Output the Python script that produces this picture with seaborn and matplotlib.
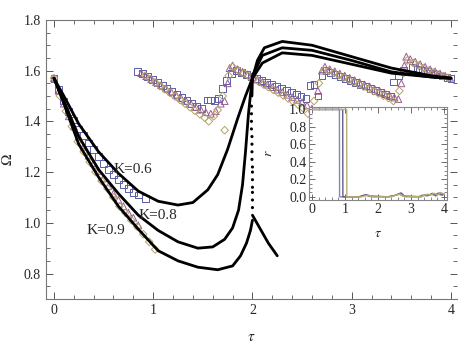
import numpy as np
import pandas as pd
import matplotlib
matplotlib.use("Agg")
import matplotlib.pyplot as plt
from matplotlib.ticker import MultipleLocator
import seaborn as sns

sns.set_style("ticks")
plt.rcParams['font.family'] = ['Liberation Serif', 'DejaVu Serif']
plt.rcParams['mathtext.fontset'] = 'stix'

# ---- black curves (theory) ----
k06_tau = [0, 0.1, 0.25, 0.45, 0.65, 0.85, 1.05, 1.25, 1.4, 1.55, 1.65, 1.75, 1.85, 1.93, 2.0,
           2.1, 2.3, 2.6, 3.0, 3.4, 3.8, 4.0]
k06_om = [1.57, 1.50, 1.39, 1.28, 1.195, 1.125, 1.085, 1.07, 1.08, 1.13, 1.19, 1.29, 1.41, 1.50, 1.57,
          1.63, 1.67, 1.66, 1.625, 1.59, 1.575, 1.57]

k08_tau = [0, 0.1, 0.25, 0.45, 0.65, 0.85, 1.05, 1.25, 1.45, 1.6, 1.72, 1.8, 1.86, 1.9, 1.93, 1.96,
           2.0, 2.1, 2.3, 2.6, 3.0, 3.4, 3.8, 4.0]
k08_om = [1.57, 1.48, 1.34, 1.21, 1.115, 1.03, 0.97, 0.925, 0.90, 0.905, 0.935, 0.98, 1.05, 1.15, 1.28, 1.43,
          1.58, 1.66, 1.69, 1.68, 1.64, 1.595, 1.575, 1.57]

k09_tau = [0, 0.1, 0.25, 0.45, 0.65, 0.85, 1.05, 1.25, 1.45, 1.65, 1.8, 1.88, 1.94, 1.98, 2.0]
k09_om = [1.57, 1.47, 1.31, 1.18, 1.065, 0.975, 0.89, 0.85, 0.825, 0.815, 0.83, 0.87, 0.92, 0.97, 1.01]

k09_up_tau = [1.995, 2.0, 2.05, 2.12, 2.3, 2.6, 3.0, 3.4, 3.8, 4.0]
k09_up_om = [1.50, 1.57, 1.64, 1.69, 1.715, 1.70, 1.655, 1.61, 1.58, 1.57]

k09_br_tau = [2.0, 2.08, 2.16, 2.25]
k09_br_om = [1.03, 0.975, 0.92, 0.87]

dots_tau = [2.0, 2.0, 2.0, 2.0, 2.0, 2.0, 2.0, 1.995, 1.995, 1.995, 1.995, 1.99, 1.99, 1.99, 1.99]
dots_om = [1.06, 1.09, 1.12, 1.14, 1.17, 1.20, 1.22, 1.25, 1.28, 1.31, 1.34, 1.37, 1.40, 1.43, 1.46]

# ---- simulation markers ----
sq_tau = [0, 0.05, 0.1, 0.15, 0.2, 0.25, 0.3, 0.35, 0.4, 0.45, 0.5, 0.55, 0.6, 0.65, 0.7, 0.75, 0.8, 0.85, 0.92,
          0.84, 0.89, 0.94, 0.99, 1.04, 1.09, 1.14, 1.19, 1.24, 1.29, 1.34, 1.39, 1.44, 1.49,
          1.55, 1.58, 1.62, 1.66, 1.70, 1.74, 1.79,
          1.84, 1.89, 1.94, 1.99, 2.04, 2.09, 2.14, 2.19, 2.24, 2.29, 2.34, 2.39, 2.44, 2.49, 2.54,
          2.58, 2.62, 2.66, 2.70,
          2.74, 2.79, 2.84, 2.89, 2.94, 2.99, 3.04, 3.09, 3.14, 3.19, 3.24, 3.29, 3.34, 3.39,
          3.42, 3.47, 3.52,
          3.61, 3.66, 3.71, 3.76, 3.81, 3.86, 3.91, 3.96, 4.0]
sq_om = [1.57, 1.525, 1.48, 1.44, 1.405, 1.37, 1.345, 1.315, 1.29, 1.26, 1.235, 1.21, 1.19, 1.17, 1.15, 1.135, 1.12, 1.11, 1.097,
         1.598, 1.588, 1.577, 1.565, 1.553, 1.541, 1.530, 1.518, 1.505, 1.494, 1.483, 1.471, 1.459, 1.452,
         1.484, 1.484, 1.482, 1.49, 1.53, 1.56, 1.59,
         1.600, 1.592, 1.584, 1.576, 1.568, 1.560, 1.552, 1.545, 1.537, 1.529, 1.521, 1.514, 1.506, 1.498, 1.49,
         1.54, 1.545, 1.50, 1.58,
         1.600, 1.592, 1.585, 1.577, 1.569, 1.562, 1.554, 1.546, 1.539, 1.531, 1.523, 1.516, 1.508, 1.50,
         1.555, 1.58, 1.60,
         1.612, 1.606, 1.600, 1.595, 1.590, 1.584, 1.579, 1.573, 1.57]

tri_tau = [0, 0.05, 0.1, 0.15, 0.2, 0.25, 0.3, 0.35, 0.4, 0.45, 0.5, 0.55, 0.6, 0.65, 0.7, 0.75, 0.8, 0.85,
           0.88, 0.93, 0.98, 1.03, 1.08, 1.13, 1.18, 1.23, 1.28, 1.33, 1.38, 1.43, 1.48, 1.53, 1.58,
           1.63, 1.68, 1.72, 1.75, 1.77, 1.80,
           1.85, 1.90, 1.95, 2.00, 2.05, 2.10, 2.15, 2.20, 2.25, 2.30, 2.35, 2.40, 2.45, 2.50, 2.55,
           2.60, 2.66, 2.70, 2.73,
           2.78, 2.83, 2.88, 2.93, 2.98, 3.03, 3.08, 3.13, 3.18, 3.23, 3.28, 3.33, 3.38, 3.43, 3.47,
           3.50, 3.53, 3.55, 3.59,
           3.64, 3.69, 3.74, 3.79, 3.84, 3.89, 3.94, 3.99]
tri_om = [1.57, 1.52, 1.47, 1.42, 1.38, 1.34, 1.30, 1.265, 1.235, 1.205, 1.175, 1.145, 1.115, 1.09, 1.065, 1.04, 1.02, 0.99,
          1.590, 1.578, 1.566, 1.554, 1.542, 1.530, 1.518, 1.505, 1.493, 1.481, 1.469, 1.457, 1.446, 1.436, 1.43,
          1.44, 1.47, 1.48, 1.55, 1.61, 1.62,
          1.605, 1.595, 1.585, 1.575, 1.565, 1.555, 1.545, 1.535, 1.525, 1.515, 1.505, 1.495, 1.485, 1.475, 1.463,
          1.45, 1.52, 1.60, 1.615,
          1.605, 1.597, 1.588, 1.580, 1.571, 1.562, 1.554, 1.545, 1.537, 1.528, 1.520, 1.511, 1.503, 1.494, 1.488,
          1.55, 1.62, 1.655, 1.645,
          1.635, 1.625, 1.615, 1.605, 1.597, 1.588, 1.58, 1.572]

dia_tau = [0, 0.06, 0.12, 0.18, 0.24, 0.3, 0.36, 0.42, 0.48, 0.54, 0.6, 0.66, 0.72, 0.78, 0.84, 0.9, 0.96, 1.02,
           0.92, 0.97, 1.02, 1.07, 1.12, 1.17, 1.22, 1.27, 1.32, 1.37, 1.42, 1.47, 1.52, 1.56,
           1.61, 1.65, 1.72, 1.70, 1.76, 1.80,
           1.86, 1.91, 1.96, 2.01, 2.06, 2.11, 2.16, 2.21, 2.26, 2.31, 2.36, 2.41, 2.46, 2.51, 2.56,
           2.62, 2.67, 2.72,
           2.77, 2.82, 2.87, 2.92, 2.97, 3.02, 3.07, 3.12, 3.17, 3.22, 3.27, 3.32, 3.37, 3.42,
           3.48, 3.52, 3.56,
           3.62, 3.67, 3.72, 3.77, 3.82, 3.87, 3.92, 3.97]
dia_om = [1.57, 1.50, 1.44, 1.38, 1.32, 1.28, 1.24, 1.20, 1.165, 1.135, 1.10, 1.065, 1.04, 1.01, 0.985, 0.955, 0.925, 0.895,
          1.580, 1.567, 1.553, 1.540, 1.526, 1.512, 1.498, 1.484, 1.470, 1.456, 1.442, 1.428, 1.414, 1.40,
          1.42, 1.445, 1.365, 1.50, 1.58, 1.615,
          1.600, 1.590, 1.579, 1.568, 1.557, 1.546, 1.535, 1.524, 1.513, 1.502, 1.490, 1.478, 1.466, 1.452, 1.43,
          1.48, 1.55, 1.60,
          1.600, 1.591, 1.582, 1.573, 1.564, 1.555, 1.546, 1.537, 1.528, 1.519, 1.510, 1.501, 1.492, 1.48,
          1.52, 1.59, 1.64,
          1.63, 1.62, 1.61, 1.60, 1.593, 1.585, 1.578, 1.572]

# ---- inset: order parameter r ----
r1_tau = [0, 0.83, 0.835, 1.0, 1.4, 1.5, 1.6, 1.7, 1.8, 2.3, 2.45, 2.55, 2.65, 2.75, 2.85, 3.2, 3.35, 3.5, 3.6, 3.7, 3.8, 3.9, 4.0]
r1 = [1, 1, 0, 0, 0, 0.01, 0.02, 0.01, 0, 0, 0.01, 0.02, 0.03, 0.01, 0, 0, 0.02, 0.01, 0.03, 0.02, 0.04, 0.02, 0.03]
r2_tau = [0, 0.93, 0.935, 1.1, 1.45, 1.55, 1.65, 1.75, 2.3, 2.5, 2.6, 2.7, 2.8, 3.3, 3.45, 3.55, 3.65, 3.75, 3.85, 3.95, 4.0]
r2 = [1, 1, 0, 0, 0, 0.015, 0.025, 0.01, 0, 0.015, 0.03, 0.045, 0.01, 0, 0.025, 0.02, 0.04, 0.01, 0.045, 0.02, 0.03]
r3_tau = [0, 1.05, 1.055, 1.2, 1.5, 1.6, 1.7, 1.8, 2.4, 2.55, 2.65, 2.75, 3.3, 3.4, 3.5, 3.6, 3.7, 3.8, 3.9, 4.0]
r3 = [1, 1, 0, 0, 0, 0.01, 0.02, 0.0, 0, 0.02, 0.03, 0.01, 0, 0.02, 0.03, 0.02, 0.04, 0.02, 0.05, 0.03]

c_sq = '#5a5fa8'
c_tri = '#9a5c94'
c_dia = '#b3a366'

fig = plt.figure(figsize=(4.74, 3.55), dpi=100)
ax = fig.add_axes([0.097, 0.158, 0.867, 0.786])

# markers
sns.scatterplot(x=sq_tau, y=sq_om, marker='s', s=24, facecolor='none', edgecolor=c_sq, linewidth=0.7, ax=ax, zorder=2)
sns.scatterplot(x=tri_tau, y=tri_om, marker='^', s=24, facecolor='none', edgecolor=c_tri, linewidth=0.7, ax=ax, zorder=2)
sns.scatterplot(x=dia_tau, y=dia_om, marker='D', s=15, facecolor='none', edgecolor=c_dia, linewidth=0.7, ax=ax, zorder=2)

# curves
for tt, oo in [(k06_tau, k06_om), (k08_tau, k08_om), (k09_tau, k09_om),
               (k09_up_tau, k09_up_om), (k09_br_tau, k09_br_om)]:
    sns.lineplot(x=tt, y=oo, sort=False, estimator=None, color='black', linewidth=2.0, ax=ax, zorder=3)
sns.scatterplot(x=dots_tau, y=dots_om, s=5, color='black', edgecolor='none', ax=ax, zorder=3)

ax.text(0.6, 1.211, 'K=0.6', fontsize=11, va='center', ha='left')
ax.text(0.85, 1.029, 'K=0.8', fontsize=11, va='center', ha='left')
ax.text(0.33, 0.97, 'K=0.9', fontsize=11, va='center', ha='left')

ax.set_xlim(-0.08, 4.06)
ax.set_ylim(0.70, 1.80)
ax.xaxis.set_major_locator(MultipleLocator(1))
ax.xaxis.set_minor_locator(MultipleLocator(0.2))
ax.yaxis.set_major_locator(MultipleLocator(0.2))
ax.yaxis.set_minor_locator(MultipleLocator(0.05))
ax.set_xticks([0, 1, 2, 3, 4])
ax.set_xticklabels(['0', '1', '2', '3', '4'])
ax.set_yticks([0.8, 1.0, 1.2, 1.4, 1.6, 1.8])
ax.set_yticklabels(['0.8', '1.0', '1.2', '1.4', '1.6', '1.8'])
ax.tick_params(which='both', direction='in', top=True, right=True, labelsize=10, color='#555555')
ax.tick_params(which='major', length=5, width=0.7)
ax.tick_params(which='minor', length=3, width=0.6)
for side in ['left', 'bottom', 'top']:
    ax.spines[side].set_color('#777777')
    ax.spines[side].set_linewidth(0.8)
ax.spines['right'].set_visible(False)
ax.set_xlabel(r'$\tau$', fontsize=11, labelpad=10)
ax.set_ylabel(r'$\Omega$', fontsize=11, labelpad=6)

# inset
ax2 = fig.add_axes([0.652, 0.437, 0.291, 0.262])
ax2.set_facecolor('white')
sns.lineplot(x=r1_tau, y=r1, sort=False, estimator=None, color='#8088b8', linewidth=1.0, ax=ax2)
sns.lineplot(x=r2_tau, y=r2, sort=False, estimator=None, color='#6a5a8c', linewidth=1.0, ax=ax2)
sns.lineplot(x=r3_tau, y=r3, sort=False, estimator=None, color='#b8b070', linewidth=1.0, ax=ax2)
ax2.set_xlim(-0.09, 4.09)
ax2.set_ylim(-0.035, 1.03)
ax2.set_xticks([0, 1, 2, 3, 4])
ax2.set_xticklabels(['0', '1', '2', '3', '4'])
ax2.set_yticks([0.0, 0.2, 0.4, 0.6, 0.8, 1.0])
ax2.set_yticklabels(['0.0', '0.2', '0.4', '0.6', '0.8', '1.0'])
ax2.xaxis.set_minor_locator(MultipleLocator(0.2))
ax2.yaxis.set_minor_locator(MultipleLocator(0.05))
ax2.tick_params(which='both', direction='in', top=True, right=True, labelsize=10, pad=2, color='#555555')
ax2.tick_params(which='major', length=4, width=0.6)
ax2.tick_params(which='minor', length=2, width=0.5)
for side in ['left', 'bottom', 'top', 'right']:
    ax2.spines[side].set_color('#888888')
    ax2.spines[side].set_linewidth(0.8)
ax2.set_xlabel(r'$\tau$', fontsize=10, labelpad=8)
ax2.set_ylabel(r'$r$', fontsize=10, labelpad=10)

fig.savefig('out.png', dpi=100)
